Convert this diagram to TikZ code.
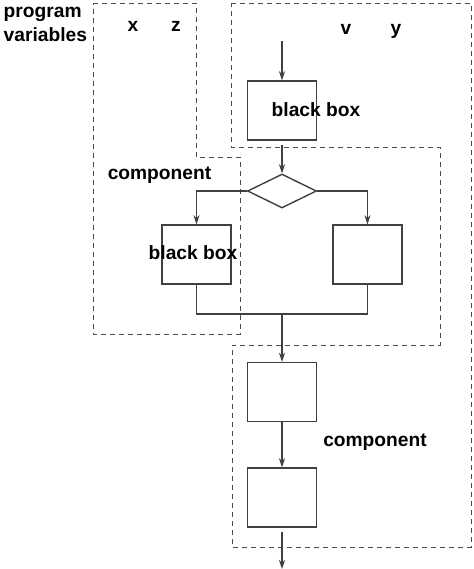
\documentclass[tikz,border=0pt]{standalone}
\usepackage{fontspec}
\setmainfont{Liberation Sans}
\usetikzlibrary{shapes.geometric,arrows.meta}

\begin{document}
\begin{tikzpicture}[x=0.5pt, y=-0.5pt, line width=0.7pt,
  font=\fontsize{9.6}{12}\selectfont\bfseries,
  blok/.style={draw=black!75, minimum width=34.5pt, minimum height=29.5pt, inner sep=0pt},
  keuze/.style={draw=black!75, diamond, minimum width=34.5pt, minimum height=17pt, inner sep=0pt},
  pijl/.style={draw=black!75, -{Stealth[length=4.5pt,width=3pt]}},
  lijn/.style={draw=black!75},
  gebied/.style={draw=black!70, dash pattern=on 2.5pt off 2pt, line width=0.5pt}]
  \useasboundingbox (0,0) rectangle (474,569);
  % variable regions
  \draw[gebied] (93,3) -- (196,3) -- (196,157) -- (240,157) -- (240,334) -- (93,334) -- cycle;
  \draw[gebied] (231,3) -- (471,3) -- (471,547) -- (232,547) -- (232,345) -- (440,345) -- (440,147) -- (231,147) -- cycle;
  % labels
  \node[anchor=north west, align=left, inner sep=0pt] (vars) at (3,6) {program\\variables};
  \node[anchor=base] (x) at (133,31) {x};
  \node[anchor=base] (z) at (176,31) {z};
  \node[anchor=base] (v) at (346,34) {v};
  \node[anchor=base] (y) at (396,34) {y};
  % flow chart
  \coordinate (in) at (282,41);
  \node[blok] (box1) at (282,110.5) {};
  \node[keuze] (dia) at (282,191) {};
  \node[blok] (left) at (196.5,254.5) {};
  \node[blok] (right) at (367.5,254.5) {};
  \node[blok] (box3) at (282,392) {};
  \node[blok] (box4) at (282,497.5) {};
  \coordinate (join) at (282,314);
  \coordinate (uit) at (282,569);
  \draw[pijl] (in) -- (box1.north);
  \draw[pijl, shorten <=2pt] (box1.south) -- (dia.north);
  \draw[pijl] (dia.west) -| (left.north);
  \draw[pijl] (dia.east) -| (right.north);
  \draw[lijn] (left.south) |- (join) -| (right.south);
  \draw[pijl] (join) -- (box3.north);
  \draw[pijl] (box3.south) -- (box4.north);
  \draw[pijl, shorten <=2pt] (box4.south) -- (uit);
  % texts
  \node (bb1) at (316,110) {black box};
  \node (bb2) at (193,253) {black box};
  \node (comp1) at (159.5,175) {component};
  \node (comp2) at (375,442) {component};
\end{tikzpicture}
\end{document}
